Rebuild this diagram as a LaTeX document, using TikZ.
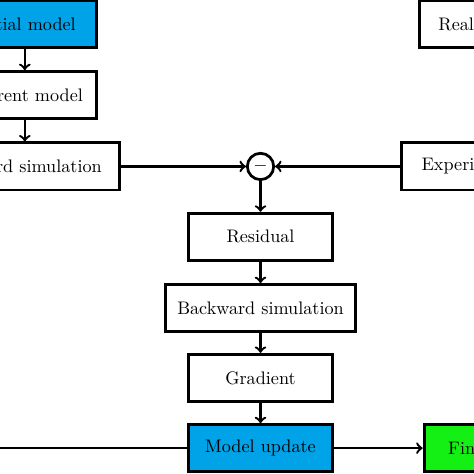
\documentclass[tikz,border=0pt]{standalone}
\usetikzlibrary{calc}
\definecolor{modelblue}{RGB}{0,162,232}
\definecolor{finalgreen}{RGB}{20,240,20}
\tikzset{
	box/.style={draw, line width=1.6pt, minimum width=2.77cm, minimum height=0.91cm, inner sep=6pt},
	widebox/.style={box, minimum width=3.66cm},
	minus/.style={draw, circle, line width=1.5pt, minimum size=0.51cm, inner sep=0pt},
	flow/.style={->, line width=1.3pt}
}

\begin{document}
\begin{tikzpicture}
			%%%%% START %%%%%
			
			\path[use as bounding box, clip] (0, 0) rectangle (9.17, -9.17);
			
			\node[box, fill=modelblue] (initial) at (0.48, -0.47) {Initial model};
			\node[box] (current) at (0.48, -1.84) {Current model};
			\node[widebox] (forward) at (0.48, -3.22) {Forward simulation};
			
			\node[box] (real) at (9.5, -0.47) {Real medium};
			\node[widebox] (experiment) at (9.59, -3.22) {Experimental data};
			
			\node[minus] (diff) at (5.04, -3.22) {$-$};
			\node[box] (residual) at (5.04, -4.58) {Residual};
			\node[widebox] (backward) at (5.04, -5.96) {Backward simulation};
			\node[box] (gradient) at (5.04, -7.31) {Gradient};
			\node[box, fill=modelblue] (update) at (5.04, -8.67) {Model update};
			\node[box, fill=finalgreen] (final) at (9.59, -8.67) {Final model};
			
			\draw[flow] (initial) -- (current);
			\draw[flow] (current) -- (forward);
			\draw[flow] (forward) -- (diff);
			\draw[flow] (experiment) -- (diff);
			\draw[flow] (diff) -- (residual);
			\draw[flow] (residual) -- (backward);
			\draw[flow] (backward) -- (gradient);
			\draw[flow] (gradient) -- (update);
			\draw[flow] (update) -- (final);
			
			\coordinate (loop) at (-2.2, -8.67);
			\draw[flow] (update.west) -- (loop) |- (current.west);
			
			%%%%% END %%%%%
\end{tikzpicture}
\end{document}
